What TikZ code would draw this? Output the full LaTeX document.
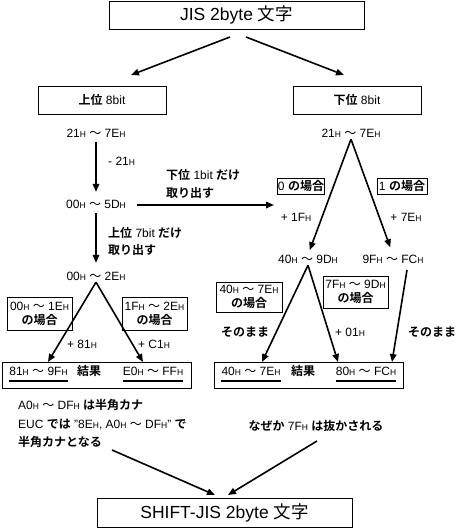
\documentclass[tikz,border=0pt]{standalone}
\usepackage{fontspec}
\setmainfont{Liberation Sans}
\newfontfamily\jp{Noto Sans CJK JP}[BoldFont={Noto Sans CJK JP Bold}]
\usetikzlibrary{calc,positioning,arrows.meta}
\newcommand{\hx}{{\fontsize{8.5}{9}\selectfont H}}
\newcommand{\wv}{ {\jp 〜} }
\newcommand{\jb}[1]{{\jp\bfseries #1}}
\begin{document}
\begin{tikzpicture}[x=1pt,y=-1pt,
  every node/.style={font=\fontsize{12}{14}\selectfont},
  box/.style={draw,line width=0.8pt,inner sep=0pt,align=center},
  val/.style={inner sep=0pt,text height=8.5pt,text depth=1.5pt},
  big/.style={font=\fontsize{17.5}{20}\selectfont},
  arr/.style={-{Triangle[length=8pt,width=6.5pt]},line width=1.6pt},
  uline/.style={line width=1.6pt}]
\useasboundingbox(0,0)rectangle(456,528);
\node[box,big,minimum width=255,minimum height=28](jis)at(236.5,15){JIS 2byte {\jp 文字}};
\node[box,minimum width=128,minimum height=28](hi)at(102,100){\jb{上位} 8bit};
\node[box,minimum width=128,minimum height=28](lo)at(357,100){\jb{下位} 8bit};
\coordinate(jisL)at(230,37);
\coordinate(jisR)at(246,37);
\coordinate(hiTip)at(131,75);
\coordinate(loTip)at(344,75);
\draw[arr](jisL)--(hiTip);
\draw[arr](jisR)--(loTip);
% upper byte
\node[val](hiA)at(96,134){21\hx\wv 7E\hx};
\node[val](hiB)at(96,205){00\hx\wv 5D\hx};
\node[val](hiC)at(96,277){00\hx\wv 2E\hx};
\node[val,right](sub)at(108,162){- 21\hx};
\node[right,inner sep=0pt,align=left,font=\fontsize{12}{18}\selectfont](take1)at(166,184){\jb{下位} 1bit \jb{だけ}\\\jb{取り出す}};
\node[right,inner sep=0pt,align=left,font=\fontsize{12}{17}\selectfont](take7)at(108,241.5){\jb{上位} 7bit \jb{だけ}\\\jb{取り出す}};
\coordinate(split)at(274,205);
\draw[arr,shorten <=3pt,shorten >=8pt](hiA)--(hiB);
\draw[arr,shorten <=3pt,shorten >=9pt](hiB)--(hiC);
\draw[arr,shorten <=11pt](hiB.east)--(split);
\node[box,minimum width=65,minimum height=33](cL1)at(39.5,313.5){00\hx\wv 1E\hx\\\jb{の場合}};
\node[box,minimum width=65,minimum height=33](cL2)at(154.5,313.5){1F\hx\wv 2E\hx\\\jb{の場合}};
\node[val](addL1)at(82,345){+ 81\hx};
\node[val](addL2)at(154,345){+ C1\hx};
\node[box,minimum width=189,minimum height=26](resL)at(96.5,375){};
\node[val](resLa)at(38.5,372){81\hx\wv 9F\hx};
\node[val](resLm)at(89,372){\jb{結果}};
\node[val](resLb)at(153,372){E0\hx\wv FF\hx};
\draw[uline]($(resLa.south west)+(0,3.5)$)--($(resLa.south east)+(0,3.5)$);
\draw[uline]($(resLb.south west)+(0,3.5)$)--($(resLb.south east)+(0,3.5)$);
\coordinate(tipL1)at(48,362);
\coordinate(tipL2)at(143,362);
\draw[arr](hiC.south)--(tipL1);
\draw[arr](hiC.south)--(tipL2);
% lower byte
\node[val](loA)at(351,134){21\hx\wv 7E\hx};
\node[val](loB)at(308,260){40\hx\wv 9D\hx};
\node[val](loC)at(393,260){9F\hx\wv FC\hx};
\node[box,minimum width=47,minimum height=16](cR1)at(301,186){0 \jb{の場合}};
\node[box,minimum width=50,minimum height=16](cR2)at(402,186){1 \jb{の場合}};
\node[val](addR1)at(296,218){+ 1F\hx};
\node[val](addR2)at(406,218){+ 7E\hx};
\draw[arr,shorten >=5pt](loA.south)--(loB.north);
\draw[arr,shorten >=8pt](loA.south)--(loC.north);
\node[box,minimum width=66,minimum height=30](cR3)at(249,297){40\hx\wv 7E\hx\\\jb{の場合}};
\node[box,minimum width=65,minimum height=32](cR4)at(355.5,292){7F\hx\wv 9D\hx\\\jb{の場合}};
\node[val](keepL)at(245,333){\jb{そのまま}};
\node[val](addR3)at(350,333){+ 01\hx};
\node[val](keepR)at(432,333){\jb{そのまま}};
\node[box,minimum width=189,minimum height=26](resR)at(308.5,375){};
\node[val](resRa)at(251,372){40\hx\wv 7E\hx};
\node[val](resRm)at(303,372){\jb{結果}};
\node[val](resRb)at(366,372){80\hx\wv FC\hx};
\draw[uline]($(resRa.south west)+(0,3.5)$)--($(resRa.south east)+(0,3.5)$);
\draw[uline]($(resRb.south west)+(0,3.5)$)--($(resRb.south east)+(0,3.5)$);
\coordinate(loCs)at(407,270);
\coordinate(tipR1)at(262,362);
\coordinate(tipR2)at(338,362);
\coordinate(tipR3)at(392,362);
\draw[arr](loB.south)--(tipR1);
\draw[arr](loB.south)--(tipR2);
\draw[arr](loCs)--(tipR3);
% notes
\node[val,right](kana1)at(18,406){A0\hx\wv DF\hx\ \jb{は半角カナ}};
\node[val,right](kana2)at(18,425){EUC \jb{では} "8E\hx, A0\hx\wv DF\hx" \jb{で}};
\node[val,right](kana3)at(18,443){\jb{半角カナとなる}};
\node[val](skip)at(316,427){\jb{なぜか} 7F\hx\ \jb{は抜かされる}};
\node[box,big,minimum width=255,minimum height=29](sjis)at(224.5,512.5){SHIFT-JIS 2byte {\jp 文字}};
\coordinate(kanaEnd)at(112,450);
\coordinate(skipEnd)at(317,441);
\coordinate(sjisL)at(215,495);
\coordinate(sjisR)at(228,495);
\draw[arr](kanaEnd)--(sjisL);
\draw[arr](skipEnd)--(sjisR);
\end{tikzpicture}
\end{document}
